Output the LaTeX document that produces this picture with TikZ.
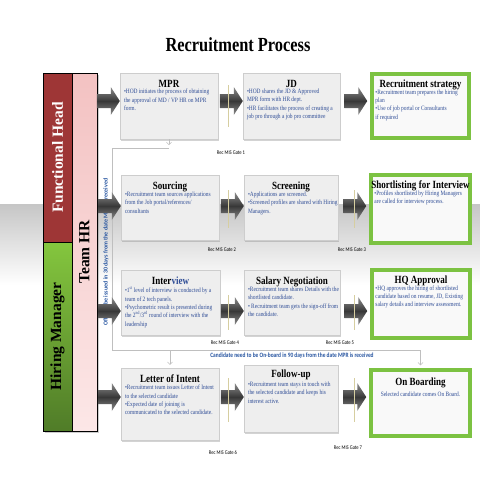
\documentclass[tikz,border=0pt]{standalone}
\usepackage{fontspec}
\setmainfont{Liberation Serif}[FakeStretch=0.82]
\newfontfamily\lanefont{Liberation Serif}
\newfontfamily\gatefont{Carlito}[FakeStretch=0.82]
\newfontfamily\notefont{Carlito}
\usetikzlibrary{positioning,calc,shadows,arrows.meta}

\definecolor{headred}{RGB}{158,54,54}
\definecolor{hmgreen}{RGB}{132,198,62}
\definecolor{hmdark}{RGB}{80,124,40}
\definecolor{hrpink}{RGB}{243,194,194}
\definecolor{hrpale}{RGB}{252,231,231}
\definecolor{cardfill}{RGB}{238,238,238}
\definecolor{cardedge}{RGB}{205,205,205}
\definecolor{keygreen}{RGB}{124,194,66}
\definecolor{bodyblue}{RGB}{47,77,150}
\definecolor{noteblue}{RGB}{38,84,160}
\definecolor{gatetan}{RGB}{214,206,160}

\tikzstyle{card} = [rectangle, fill=cardfill, draw=cardedge, line width=.4pt, inner sep=0pt, drop shadow={shadow xshift=1.2pt, shadow yshift=-1.8pt, opacity=.35}]
\tikzstyle{keycard} = [rectangle, fill=white!95!gray, draw=keygreen, line width=3.5pt, inner sep=0pt, drop shadow={shadow xshift=1.5pt, shadow yshift=-2pt, opacity=.35}]
\tikzstyle{cardhead} = [inner sep=0pt, font=\fontsize{11}{12}\selectfont\bfseries]
\tikzstyle{cardbody} = [inner sep=0pt, align=left, text=bodyblue, font=\fontsize{6.6}{8.4}\selectfont]
\tikzstyle{lane} = [draw=black, line width=.8pt, inner sep=0pt, rotate=90, font=\lanefont\fontsize{15.5}{18}\selectfont\bfseries]
\tikzstyle{gatelabel} = [inner sep=0pt, font=\gatefont\fontsize{5.6}{6.5}\selectfont]
\tikzstyle{gate} = [draw=gatetan, line width=.5pt]
\tikzstyle{bigarrow} = [top color=black!45, bottom color=black!45, middle color=black!78]
\tikzstyle{bracketline} = [draw=gray!50, line width=.5pt]
\tikzstyle{downtip} = [-{Straight Barb[length=2.5pt,width=5pt]}, shorten >=3pt]

\newcommand{\bigarr}[1]{\shade[bigarrow] (#1) ++(0,-7) -- ++(14,0) -- ++(0,-7) -- ++(9,14) -- ++(-9,14) -- ++(0,-7) -- ++(-14,0) -- cycle;}

\begin{document}
\begin{tikzpicture}[x=1pt,y=-1pt]
      \useasboundingbox (0,0) rectangle (480,480);
      \shade[top color=gray!45, bottom color=white] (0,204) rectangle (480,285);

      \node[font=\fontsize{20}{22}\selectfont\bfseries] (title) at (238,45) {Recruitment Process};

      % lanes
      \node[draw=black, line width=.8pt, fill=white, inner sep=0pt, minimum width=54pt, minimum height=358pt, drop shadow={shadow xshift=2pt, shadow yshift=-2pt, opacity=.4}] (lanes) at (70,252) {};
      \fill[headred] (43,73) rectangle (72,242);
      \shade[top color=hmgreen, bottom color=hmdark] (43,242) rectangle (72,431);
      \shade[top color=hrpink, bottom color=hrpale] (72,73) rectangle (97,431);
      \node[lane, text=white, minimum width=169pt, minimum height=29pt] (fhead) at (57.5,157.5) {Functional Head};
      \node[lane, minimum width=189pt, minimum height=29pt] (hman) at (57.5,336.5) {Hiring Manager};
      \node[lane, minimum width=358pt, minimum height=25pt] (teamhr) at (84.5,252) {Team HR};

      % cards
      \node[card, minimum width=98pt, minimum height=66pt] (mpr) at (169,106) {};
      \node[card, minimum width=97pt, minimum height=66pt] (jd) at (291.5,106) {};
      \node[keycard, minimum width=97pt, minimum height=64pt] (strat) at (420.5,106) {};
      \node[card, minimum width=98pt, minimum height=65pt] (sourcing) at (170,207.5) {};
      \node[card, minimum width=94pt, minimum height=65pt] (screening) at (291,207.5) {};
      \node[keycard, minimum width=99pt, minimum height=68pt] (shortlist) at (420.5,209) {};
      \node[card, minimum width=99pt, minimum height=65pt] (interview) at (170.5,302.5) {};
      \node[card, minimum width=96pt, minimum height=65pt] (salary) at (292,302.5) {};
      \node[keycard, minimum width=98pt, minimum height=68pt] (hq) at (421,304) {};
      \node[card, minimum width=98pt, minimum height=72pt] (loi) at (170,404) {};
      \node[card, minimum width=94pt, minimum height=67pt] (follow) at (291,398.5) {};
      \node[keycard, minimum width=99pt, minimum height=66pt] (onboard) at (420.5,403) {};

      \node[cardhead, below=7pt of mpr.north] (mprhead) {MPR};
      \node[cardbody, below right=16pt and 4pt of mpr.north west] (mprbody) {•HOD initiates  the process of obtaining\\the  approval  of MD / VP HR on MPR\\form.};
      \node[cardhead, below=7pt of jd.north] (jdhead) {JD};
      \node[cardbody, below right=16pt and 4pt of jd.north west] (jdbody) {•HOD shares the JD \& Approved\\MPR form with HR dept.\\•HR facilitates the process of creating a\\job pro through a job pro committee};
      \node[cardhead, below=7pt of strat.north] (strathead) {Recruitment strategy};
      \node[cardbody, below right=17pt and 5pt of strat.north west] (stratbody) {•Recruitment team prepares the hiring\\plan\\•Use of job portal or Consultants\\if required};
      \node[cardhead, below=7pt of sourcing.north] (sourcinghead) {Sourcing};
      \node[cardbody, below right=17pt and 4pt of sourcing.north west] (sourcingbody) {•Recruitment team sources applications\\from the Job portal/references/\\consultants};
      \node[cardhead, below=7pt of screening.north] (screeninghead) {Screening};
      \node[cardbody, below right=17pt and 4pt of screening.north west] (screeningbody) {•Applications are screened.\\•Screened profiles are shared with Hiring\\Managers.};
      \node[cardhead, below=7pt of shortlist.north] (shortlisthead) {Shortlisting for Interview};
      \node[cardbody, below right=17pt and 5pt of shortlist.north west] (shortlistbody) {•Profiles shortlisted by Hiring Managers\\are called for interview process.};
      \node[cardhead, below=7pt of interview.north] (interviewhead) {Inter\textcolor{bodyblue}{view}};
      \node[cardbody, below right=17pt and 4pt of interview.north west] (interviewbody) {•1\textsuperscript{st} level of interview is conducted by a\\team of 2 tech panels.\\•Psychometric result is presented during\\the 2\textsuperscript{nd}/3\textsuperscript{rd} round of interview with the\\leadership};
      \node[cardhead, below=7pt of salary.north] (salaryhead) {Salary Negotiation};
      \node[cardbody, below right=17pt and 4pt of salary.north west] (salarybody) {•Recruitment team shares Details with the\\shortlisted candidate.\\• Recruitment team gets the sign-off from\\the candidate.};
      \node[cardhead, below=7pt of hq.north] (hqhead) {HQ Approval};
      \node[cardbody, below right=17pt and 5pt of hq.north west] (hqbody) {•HQ approves the  hiring of  shortlisted\\candidate based on  resume, JD, Existing\\salary details and interview assessment.};
      \node[cardhead, below=7pt of loi.north] (loihead) {Letter of Intent};
      \node[cardbody, below right=17pt and 4pt of loi.north west] (loibody) {•Recruitment team issues Letter of Intent\\to the selected candidate\\•Expected date of joining is\\communicated to the selected candidate.};
      \node[cardhead, below=5pt of follow.north] (followhead) {Follow-up};
      \node[cardbody, below right=17pt and 4pt of follow.north west] (followbody) {•Recruitment team stays in touch with\\the selected candidate and keeps his\\interest active.};
      \node[cardhead, below=9pt of onboard.north] (onboardhead) {On Boarding};
      \node[cardbody, below=23pt of onboard.north] (onboardbody) {Selected candidate comes On Board.};

      % offer / on-board timeline
      \coordinate (offtop) at (112,148);
      \coordinate (offbot) at (112,350);
      \draw[bracketline] (mpr.south |- offtop) -- (offtop) -- (offbot) -- (onboard.north |- offbot);
      \draw[bracketline, downtip] (mpr.south) -- (mpr.south |- offtop);
      \draw[bracketline, downtip] (loi.north |- offbot) -- (loi.north);
      \draw[bracketline, downtip] (onboard.north |- offbot) -- (onboard.north);
      \node[rotate=90, inner sep=0pt, text=noteblue, font=\notefont\fontsize{6}{7}\selectfont\bfseries] (offernote) at (106,252) {Offer to be issued in 30 days from the date MPR is received};
      \node[inner sep=0pt, text=noteblue, font=\gatefont\fontsize{6.6}{7}\selectfont\bfseries] (boardnote) at (292,356) {Candidate need to be On-board in 90 days from the date  MPR is received};

      % block arrows
      \bigarr{$(mpr.west)+(-23,-5)$}
      \bigarr{$(jd.west)+(-23,-5)$}
      \bigarr{$(strat.west)+(-26,-5)$}
      \bigarr{$(sourcing.west)+(-23,-1.5)$}
      \bigarr{$(screening.west)+(-23,-1.5)$}
      \bigarr{$(shortlist.west)+(-26,-3)$}
      \bigarr{$(interview.west)+(-23,8.5)$}
      \bigarr{$(salary.west)+(-23,8.5)$}
      \bigarr{$(hq.west)+(-26,7)$}
      \bigarr{$(loi.west)+(-23,-7)$}
      \bigarr{$(follow.west)+(-23,-1.5)$}
      \bigarr{$(onboard.west)+(-26,-6)$}

      % gates
      \draw[gate] (228,85) -- (228,127);
      \draw[gate] (228,190) -- (228,228);
      \draw[gate] (354,190) -- (354,228);
      \draw[gate] (228,295) -- (228,330);
      \draw[gate] (354,295) -- (354,330);
      \draw[gate] (228,378) -- (228,422);
      \draw[gate] (354,378) -- (354,422);
      \node[gatelabel] (gate1) at (231,153) {Rec MIS Gate 1};
      \node[gatelabel] (gate2) at (222,250) {Rec MIS Gate 2};
      \node[gatelabel] (gate3) at (352,250) {Rec MIS Gate 3};
      \node[gatelabel] (gate4) at (225,343) {Rec MIS Gate 4};
      \node[gatelabel] (gate5) at (340,343) {Rec MIS Gate 5};
      \node[gatelabel] (gate6) at (223,453) {Rec MIS Gate 6};
      \node[gatelabel] (gate7) at (348,448) {Rec MIS Gate 7};
    \end{tikzpicture}
\end{document}
